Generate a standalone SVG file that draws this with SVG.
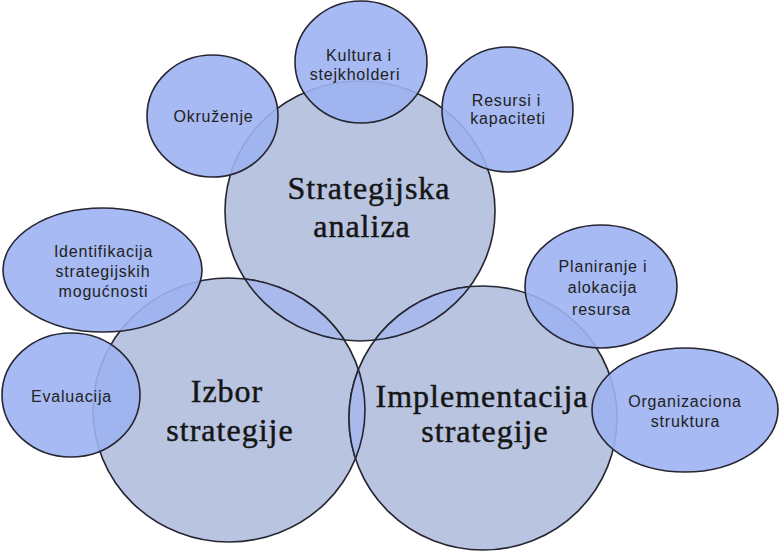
<svg xmlns="http://www.w3.org/2000/svg" width="784" height="556" viewBox="0 0 784 556">
  <defs>
    <style>
      .big { fill: #b8c4e0; stroke: #262633; stroke-width: 1.6; }
      .lens { fill: #aab9eb; stroke: #262633; stroke-width: 1.6; }
      .edge { fill: none; stroke: #262633; stroke-width: 1.6; }
      .small { fill: #9db2f2; fill-opacity: 0.9; stroke: #262633; stroke-width: 1.6; }
      .bt { font-family: "Liberation Serif", "Times New Roman", serif; font-size: 32px; letter-spacing: 1px; fill: #151515; stroke: #151515; stroke-width: 0.45; text-anchor: middle; }
      .st { font-family: "Liberation Sans", Arial, sans-serif; font-size: 16px; letter-spacing: 0.8px; fill: #222222; text-anchor: middle; }
    </style>
    <clipPath id="cStrat"><ellipse cx="360" cy="211" rx="135" ry="130"/></clipPath>
    <clipPath id="cIzbor"><ellipse cx="229" cy="410" rx="136" ry="132"/></clipPath>
    <clipPath id="cImpl"><ellipse cx="483" cy="418" rx="134" ry="132"/></clipPath>
  </defs>
  <rect width="784" height="556" fill="#ffffff"/>

  <g id="strategijska-analiza">
    <ellipse class="big" cx="360" cy="211" rx="135" ry="130"/>
    <text class="bt" x="369" y="199">Strategijska</text>
    <text class="bt" x="362" y="237">analiza</text>
  </g>
  <g id="izbor-strategije">
    <ellipse class="big" cx="229" cy="410" rx="136" ry="132"/>
    <text class="bt" x="227" y="402">Izbor</text>
    <text class="bt" x="230" y="441">strategije</text>
  </g>
  <g id="implementacija-strategije">
    <ellipse class="big" cx="483" cy="418" rx="134" ry="132"/>
    <text class="bt" x="482" y="407">Implementacija</text>
    <text class="bt" x="485" y="442">strategije</text>
  </g>

  <g id="overlaps">
    <ellipse class="lens" cx="229" cy="410" rx="136" ry="132" clip-path="url(#cStrat)"/>
    <ellipse class="edge" cx="360" cy="211" rx="135" ry="130" clip-path="url(#cIzbor)"/>
    <ellipse class="lens" cx="483" cy="418" rx="134" ry="132" clip-path="url(#cStrat)"/>
    <ellipse class="edge" cx="360" cy="211" rx="135" ry="130" clip-path="url(#cImpl)"/>
    <ellipse class="lens" cx="483" cy="418" rx="134" ry="132" clip-path="url(#cIzbor)"/>
    <ellipse class="edge" cx="229" cy="410" rx="136" ry="132" clip-path="url(#cImpl)"/>
  </g>

  <g id="okruzenje">
    <ellipse class="small" cx="212.5" cy="116" rx="65.5" ry="61"/>
    <text class="st" x="213.5" y="122">Okruženje</text>
  </g>
  <g id="kultura-i-stejkholderi">
    <ellipse class="small" cx="361" cy="62" rx="66" ry="61"/>
    <text class="st" x="359" y="61">Kultura i</text>
    <text class="st" x="355" y="80">stejkholderi</text>
  </g>
  <g id="resursi-i-kapaciteti">
    <ellipse class="small" cx="507.5" cy="109.5" rx="65.5" ry="62.5"/>
    <text class="st" x="506.5" y="106">Resursi i</text>
    <text class="st" x="508" y="124">kapaciteti</text>
  </g>
  <g id="identifikacija-strategijskih-mogucnosti">
    <ellipse class="small" cx="102.5" cy="270" rx="99.5" ry="62"/>
    <text class="st" x="103.5" y="257">Identifikacija</text>
    <text class="st" x="103" y="277">strategijskih</text>
    <text class="st" x="103.5" y="297">mogućnosti</text>
  </g>
  <g id="evaluacija">
    <ellipse class="small" cx="71" cy="395" rx="69" ry="62"/>
    <text class="st" x="71.5" y="402">Evaluacija</text>
  </g>
  <g id="planiranje-i-alokacija-resursa">
    <ellipse class="small" cx="601" cy="286.5" rx="76" ry="61.5"/>
    <text class="st" x="603" y="272">Planiranje i</text>
    <text class="st" x="602.5" y="293">alokacija</text>
    <text class="st" x="601.5" y="315">resursa</text>
  </g>
  <g id="organizaciona-struktura">
    <ellipse class="small" cx="685" cy="410" rx="93" ry="62"/>
    <text class="st" x="685" y="407">Organizaciona</text>
    <text class="st" x="685.5" y="427">struktura</text>
  </g>
</svg>
